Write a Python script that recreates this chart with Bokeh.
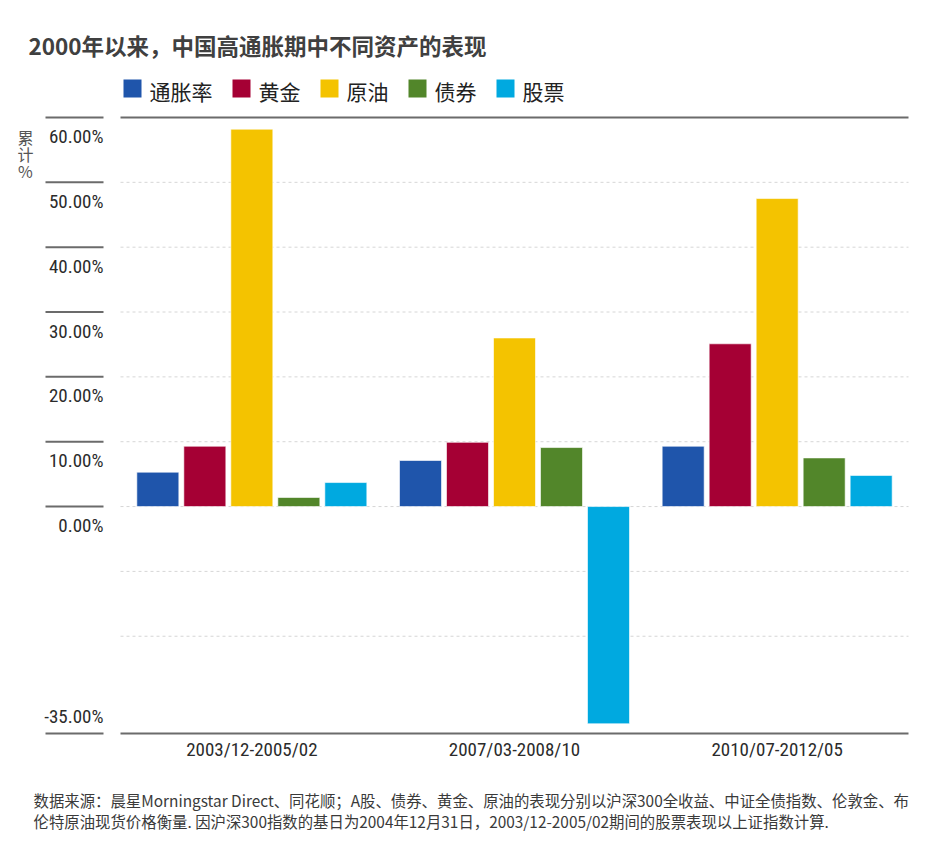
from bokeh.plotting import figure
from bokeh.models import Range1d, ColumnDataSource
from bokeh.core.properties import value
from bokeh.transform import dodge
from bokeh.embed import file_html
from bokeh.resources import INLINE

# ---------------- data ----------------
periods = ["2003/12-2005/02", "2007/03-2008/10", "2010/07-2012/05"]
series_names = ["通胀率", "黄金", "原油", "债券", "股票"]
inflation = [5.3, 7.1, 9.3]
gold = [9.3, 9.9, 25.1]
crude_oil = [58.2, 26.0, 47.5]
bonds = [1.4, 9.1, 7.5]
stocks = [3.7, -33.5, 4.8]
y_ticks = [60, 50, 40, 30, 20, 10, 0, -35]
y_tick_labels = ["60.00%", "50.00%", "40.00%", "30.00%", "20.00%", "10.00%", "0.00%", "-35.00%"]
grid_values = [50, 40, 30, 20, 10, 0, -10, -20]
title_text = "2000年以来，中国高通胀期中不同资产的表现"
y_title = "累\n计\n%"
source_lines = [
    "数据来源：晨星Morningstar Direct、同花顺；A股、债券、黄金、原油的表现分别以沪深300全收益、中证全债指数、伦敦金、布",
    "伦特原油现货价格衡量. 因沪深300指数的基日为2004年12月31日，2003/12-2005/02期间的股票表现以上证指数计算.",
]

# ---------------- style / layout ----------------
colors = ["#1f55ab", "#a50034", "#f4c300", "#52862a", "#00a9e0"]
keys = ["inflation", "gold", "crude_oil", "bonds", "stocks"]
NUM_FONT = value("Liberation Sans Narrow, Roboto Condensed, Liberation Sans, sans-serif")
CJK_FONT = value("Noto Sans CJK SC")

W, H = 944, 847
PX0, PX1 = 120, 908          # plot area, x pixels
PY_TOP, PY_BOT = 117, 733    # plot area, y pixels
VMIN, VMAX = -35, 60
n = len(periods)
GW = (PX1 - PX0) / n
per_px = (VMAX - VMIN) / (PY_BOT - PY_TOP)

p = figure(width=W, height=H, x_range=Range1d(0, W), y_range=Range1d(H, 0),
           x_axis_type=None, y_axis_type=None, toolbar_location=None,
           output_backend="svg", min_border=0, outline_line_color=None)
p.title = None
p.background_fill_color = "white"
p.border_fill_color = "white"
p.extra_x_ranges = {"grp": Range1d(-0.5 - PX0 / GW, n - 0.5 + (W - PX1) / GW)}
p.extra_y_ranges = {"pct": Range1d(VMIN - (H - PY_BOT) * per_px, VMAX + PY_TOP * per_px)}

# grid lines
p.segment(x0=PX0, x1=PX1, y0=grid_values, y1=grid_values, y_range_name="pct",
          line_color="#d6d6d6", line_width=1, line_dash="3 3")
# top and bottom solid lines
p.segment(x0=PX0, x1=PX1, y0=[VMAX, VMIN], y1=[VMAX, VMIN], y_range_name="pct",
          line_color="#6b6b6b", line_width=2)
# left tick lines
p.segment(x0=45, x1=103, y0=y_ticks, y1=y_ticks, y_range_name="pct",
          line_color="#6b6b6b", line_width=2)
# y tick labels (below their line, last one above)
label_off = [19 if v != VMIN else -17 for v in y_ticks]
p.text(x=103, y=y_ticks, text=y_tick_labels, y_offset=label_off, y_range_name="pct",
       text_font=NUM_FONT, text_font_size="19px", text_color="#2b2b2b",
       text_align="right", text_baseline="middle")

# bars
src = ColumnDataSource(dict(idx=list(range(n)), inflation=inflation, gold=gold,
                            crude_oil=crude_oil, bonds=bonds, stocks=stocks))
BAR_STEP = 47 / GW
BAR_W = 42 / GW
for i, (k, c) in enumerate(zip(keys, colors)):
    p.vbar(x=dodge("idx", (i - 2) * BAR_STEP), top=k, bottom=0, width=BAR_W, source=src,
           fill_color=c, line_color="white", line_alpha=0.6, line_width=1,
           x_range_name="grp", y_range_name="pct")

# category labels
p.text(x=list(range(n)), y=749, text=periods, x_range_name="grp",
       text_font=NUM_FONT, text_font_size="19px", text_color="#2b2b2b",
       text_align="center", text_baseline="middle")

# legend (manual, horizontal)
leg_x = []
xx = 123
for name in series_names:
    leg_x.append(xx)
    xx += 18 + 8 + 21 * len(name) + 20
p.scatter(x=[lx + 9 for lx in leg_x], y=88, marker="square", size=18,
          fill_color=colors, line_color=None)
p.text(x=[lx + 26 for lx in leg_x], y=90, text=series_names,
       text_font=CJK_FONT, text_font_size="21px", text_color="#222222",
       text_align="left", text_baseline="middle")

# title
p.text(x=[28], y=[44], text=[title_text], text_font=CJK_FONT, text_font_size="22.5px",
       text_font_style="bold", text_color="#404040", text_align="left", text_baseline="middle")

# y-axis title
p.text(x=[25], y=[124], text=[y_title], text_font=CJK_FONT, text_font_size="16px",
       text_color="#555555", text_align="center", text_baseline="top", text_line_height=0.72)

# source note
p.text(x=[33, 33], y=[799, 820], text=source_lines, text_font=CJK_FONT, text_font_size="15.4px",
       text_color="#3a3a3a", text_align="left", text_baseline="middle")

open("out.html", "w").write(file_html(p, INLINE))
